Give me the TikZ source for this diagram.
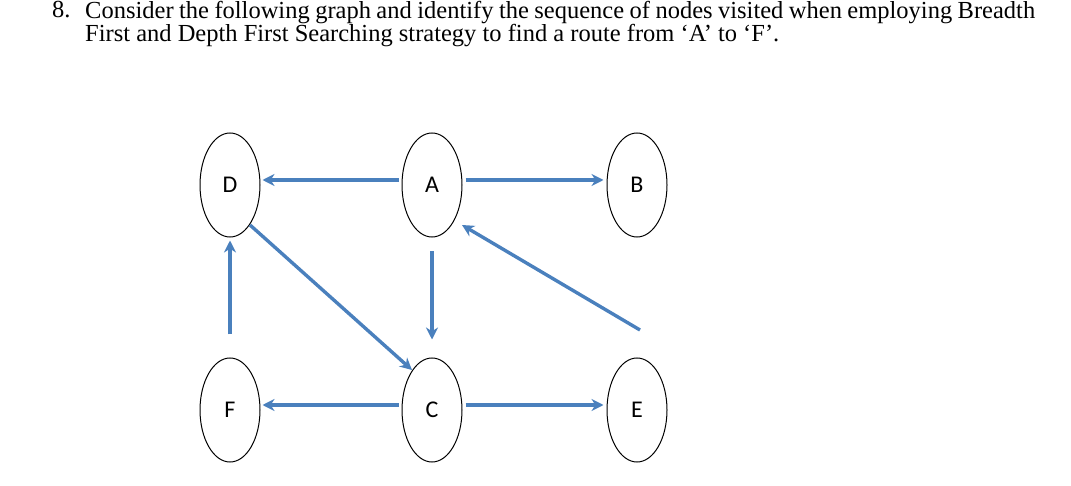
\documentclass[tikz,border=0pt]{standalone}
\usepackage{fontspec}
\setmainfont{Liberation Serif}
\newfontfamily\lbl{Carlito}
\usetikzlibrary{arrows.meta,shapes.geometric,calc}
\begin{document}
\begin{tikzpicture}[x=1pt,y=-1pt,
  vert/.style={draw=black,line width=1pt,ellipse,minimum width=60pt,minimum height=104pt,inner sep=0pt,font=\lbl\fontsize{24}{26}\selectfont},
  edge/.style={draw={rgb,255:red,74;green,128;blue,189},line width=3.4pt,-{Stealth[length=12pt,width=12pt]}}]
\useasboundingbox (0,0) rectangle (1071,486);
\node[anchor=north west,inner sep=0pt] (num) at (52,1) {\fontsize{24.5}{26}\selectfont 8.};
\node[anchor=north west,inner sep=0pt,text width=950pt,align=justify] (q) at (85,1) {\fontsize{24.5}{26}\selectfont Consider the following graph and identify the sequence of nodes visited when employing Breadth First and Depth First Searching strategy to find a route from ‘A’ to ‘F’.};
\node[vert] (D) at (230,185) {D};
\node[vert] (A) at (432,185) {A};
\node[vert] (B) at (637,185) {B};
\node[vert] (F) at (230,410) {F};
\node[vert] (C) at (432,410) {C};
\node[vert] (E) at (637,410) {E};
\draw[edge] ($(A.west)+(-3,-5)$) -- ($(D.east)+(2,-5)$);
\draw[edge] ($(A.east)+(3,-5)$) -- ($(B.west)+(-3,-5)$);
\draw[edge] ($(A.south)+(0,14)$) -- ($(C.north)+(0,-18)$);
\draw[edge] ($(E.center)+(3,-80)$) -- ($(A.center)+(30,40)$);
\draw[edge] ($(D.center)+(20,40)$) -- ($(C.center)+(-20,-40)$);
\draw[edge] ($(F.north)+(0,-23)$) -- ($(D.south)+(0,3)$);
\draw[edge] ($(C.west)+(-3,-5)$) -- ($(F.east)+(2,-5)$);
\draw[edge] ($(C.east)+(3,-5)$) -- ($(E.west)+(-3,-5)$);
\end{tikzpicture}
\end{document}
